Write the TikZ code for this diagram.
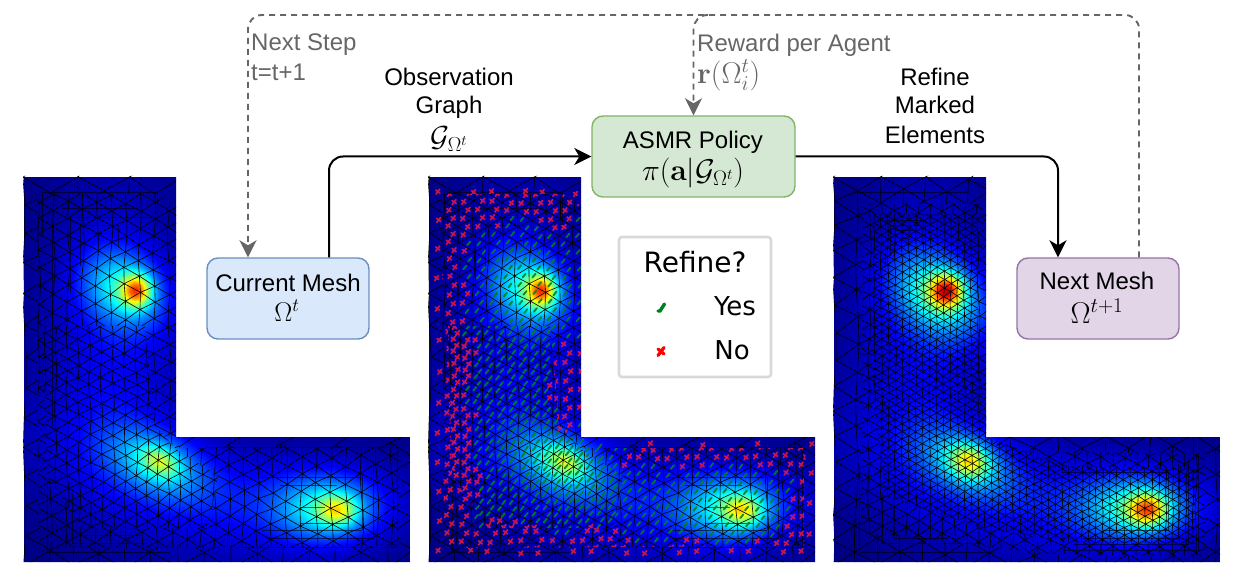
\RequirePackage{fix-cm}
\documentclass[tikz,border=0pt]{standalone}
\usepackage{amsmath}
\usepackage[no-math]{fontspec}
\setmainfont{Liberation Sans}
\newfontfamily\legendfont{DejaVu Sans}
\usetikzlibrary{arrows.meta,calc}
\newcommand\bigmath[2]{{\fontsize{#1bp}{28bp}\selectfont$#2$}}

% ---------- colour field helpers (PostScript calculator code) ----------
\newcommand\gs[7]{ 2 index #1 sub #3 mul 2 index #2 sub #4 mul add #5 div dup mul
 3 index #1 sub #4 neg mul 3 index #2 sub #3 mul add #6 div dup mul
 add 0.5 mul neg 2.71828 exch exp #7 mul add }
\newcommand\clampit{ dup 0 lt {pop 0} if dup 1 gt {pop 1} if }
\newcommand\jet{ 3 1 roll pop pop
 dup 4 mul 3 sub abs 1.5 exch sub \clampit
 exch dup 4 mul 2 sub abs 1.5 exch sub \clampit
 exch dup 4 mul 1 sub abs 1.5 exch sub \clampit
 exch pop }
\newcommand\bgfield{
 \gs{92}{160}{0}{1}{105}{48}{0.12}
 \gs{150}{310}{0.94}{0.34}{105}{42}{0.10}
 \gs{290}{322}{1}{0}{80}{34}{0.09} }
\pgfdeclarefunctionalshading{heatA}{\pgfpointorigin}{\pgfpoint{387bp}{386bp}}{}{
 386 exch sub 0.0 \bgfield
 \gs{113}{114}{1}{0}{10}{11}{0.46}
 \gs{100}{112}{0.8}{0.6}{30}{24}{0.30}
 \gs{137}{285}{0.9}{0.43}{13}{9}{0.22}
 \gs{133}{287}{0.9}{0.43}{34}{20}{0.24}
 \gs{314}{334}{1}{0}{13}{10}{0.28}
 \gs{304}{332}{1}{0}{34}{22}{0.30}
 \jet }
\pgfdeclarefunctionalshading{heatB}{\pgfpointorigin}{\pgfpoint{387bp}{386bp}}{}{
 386 exch sub 0.0 \bgfield
 \gs{113}{114}{1}{0}{11}{11}{0.50}
 \gs{105}{118}{0.8}{0.6}{34}{25}{0.36}
 \gs{136}{284}{0.95}{0.3}{13}{11}{0.28}
 \gs{133}{286}{0.9}{0.43}{32}{19}{0.25}
 \gs{314}{333}{1}{0}{13}{11}{0.40}
 \gs{304}{332}{1}{0}{36}{21}{0.33}
 \jet }

% ---------- mesh helpers ----------
\newcommand\Lpath{(0,0)--(153,0)--(153,261)--(387,261)--(387,386)--(0,386)--cycle}
\newcommand\FullRect{(-20,-20)--(410,-20)--(410,410)--(-20,410)--cycle}
\newcommand\innerA{(14,18)--(135,18)--(156,32)--(156,272)--(376,272)--(376,370)--(16,372)--cycle}
\newcommand\denseA{(20,150)--(122,150)--(132,250)--(152,272)--(195,300)--(185,352)--(60,352)--(24,300)--cycle}
\newcommand\midB{(30,28)--(150,28)--(156,220)--(156,268)--(200,276)--(372,278)--(372,380)--(220,378)--(28,356)--cycle}
\newcommand\fineB{(40,38)--(144,38)--(146,190)--(156,262)--(230,290)--(362,292)--(362,368)--(236,366)--(150,352)--(52,320)--(40,210)--cycle}
% #1 prefix, #2 h, #3 imax, #4 jmax, #5 jitter, #6 marks? (1/0), #7 lowest y of the cells
\newcommand\meshlayer[7]{%
 \pgfmathsetmacro\dxx{0.866*#2}%
 \foreach \i in {0,...,#3}{\foreach \j in {-1,...,#4}{%
   \pgfmathtruncatemacro\keepv{(((\i*\dxx<170+1.2*#2)||(\j*#2>250-2*#2))&&(\j*#2>#7-2*#2))?1:0}%
   \ifnum\keepv=1
   \pgfmathsetmacro\vx{\i*\dxx+#5*sin(37*\i+71*\j)+1.2*#5*sin(23*\i+11*\j)}%
   \pgfmathsetmacro\vy{(\j+0.5*mod(\i,2))*#2+#5*sin(73*\i-47*\j+40)+1.2*#5*sin(13*\i-29*\j)}%
   \coordinate (#1\i/\j) at (\vx,\vy);
   \fi}}%
 \pgfmathtruncatemacro\imaxx{#3-1}\pgfmathtruncatemacro\jmaxx{#4-1}%
 \foreach \i in {0,...,\imaxx}{\foreach \j in {0,...,\jmaxx}{%
   \pgfmathtruncatemacro\keepc{(((\i*\dxx<170)||(\j*#2>250))&&(\j*#2>#7))?1:0}%
   \ifnum\keepc=1
   \pgfmathtruncatemacro\ia{\i+1}%
   \pgfmathtruncatemacro\ja{\j+mod(\i,2)}%
   \pgfmathtruncatemacro\jb{\ja-1}%
   \pgfmathtruncatemacro\jc{\j+1}%
   \draw[meshline] (#1\i/\j)--(#1\i/\jc) (#1\i/\j)--(#1\ia/\ja) (#1\i/\j)--(#1\ia/\jb);
   \ifnum#6=1
     \pgfmathsetmacro\px{(\i+0.33)*\dxx}%
     \pgfmathsetmacro\py{(\j+0.5*mod(\i,2)+0.5)*#2}%
     \markat{\px}{\py}{($0.333*(#1\i/\j)+0.333*(#1\i/\jc)+0.333*(#1\ia/\ja)$)}%
     \pgfmathsetmacro\px{(\i+0.67)*\dxx}%
     \pgfmathsetmacro\py{(\j+0.5*mod(\i,2))*#2}%
     \markat{\px}{\py}{($0.333*(#1\i/\j)+0.333*(#1\ia/\jb)+0.333*(#1\ia/\ja)$)}%
   \fi
   \fi
 }}%
}
\newcommand\markat[3]{%
 \pgfmathtruncatemacro\inL{((#1>1)&&(#1<386)&&(#2>1)&&(#2<385)&&((#1<153)||(#2>261)))?1:0}%
 \ifnum\inL=1
  \pgfmathsetmacro\xn{#1+7*sin(9.1*#1+5.3*#2)}%
  \pgfmathsetmacro\yn{#2+7*sin(4.7*#1-7.1*#2)}%
  \pgfmathtruncatemacro\isg{(((\yn>47)&&(\yn<160)&&(\xn>35))||((\yn>=160)&&(\yn<250)&&(\xn>45)&&(\xn<124))||((\yn>=250)&&(\xn>48)&&(\xn<200)&&(\yn<345+0.1*(\xn-50)))||((\xn>=200)&&(\xn<359)&&(\yn>288)&&(\yn<367)))?1:0}%
  \ifnum\isg=1
    \draw[markyes] #3 ++(-1.5,1.8) -- ++(3,-3.6);
  \else
    \draw[markno] #3 ++(-1.9,2.5) -- ++(3.8,-5) #3 ++(-2,-1.5) -- ++(4,3);
  \fi
 \fi}
\newcommand\outlinesA{%
 \draw[outline] (19,60)--(19,16)--(134,16)--(134,50)
  (39,32)--(115,32) (47,117)--(47,41)--(134,41) (57,90)--(57,49)--(95,49)--(95,70)
  (65,57)--(85,57) (29,250)--(29,47)
  (24,304)--(24,376)--(147,376) (49,317)--(49,367)--(124,367) (60,359)--(120,359)
  (72,337)--(72,359)
  (217,371)--(374,371)--(374,271)--(184,271) (244,362)--(350,362)--(350,284)
  (339,354)--(339,301)--(239,301) (239,354)--(339,354) (257,309)--(314,309)
  (277,331)--(302,331) (277,347)--(325,347);}
\newcommand\outlinesB{%
 \draw[outline] (20,16)--(134,16) (52,90)--(52,44)--(92,44)--(92,100) (57,80)--(57,49)--(86,49)
  (62,70)--(62,54)--(80,54) (68,62)--(75,62)
  (229,296)--(335,296)--(335,354)--(270,354) (345,288)--(345,362)--(250,362)
  (355,284)--(355,368)--(240,368) (365,280)--(365,374)--(230,374)
  (49,317)--(49,367)--(150,367) (60,330)--(60,362)--(115,362) (26,290)--(26,376)--(160,376);}

\tikzset{
 meshline/.style={draw=black,line width=0.6bp,line cap=butt},
 outline/.style={draw=black,line width=0.35bp,draw opacity=0.6},
 markyes/.style={draw=yesgreen,line width=1.9bp,line cap=round,draw opacity=0.9},
 markno/.style={draw=noRed,line width=1.7bp,line cap=round,draw opacity=0.9},
 meshbox/.style={rounded corners=11bp,line width=1.4bp,minimum width=162bp,minimum height=81bp,inner sep=0pt},
 lbl/.style={inner sep=0pt,align=center,text=black,font=\fontsize{24bp}{28bp}\selectfont},
 glbl/.style={inner sep=0pt,anchor=west,text=labelgray,font=\fontsize{24bp}{28bp}\selectfont},
 solidflow/.style={draw=black,line width=2bp,rounded corners=14bp,-{Stealth[length=17bp,width=17bp,inset=5bp]}},
 dashflow/.style={draw=labelgray,line width=1.9bp,dash pattern=on 6bp off 5bp,rounded corners=14bp,-{Stealth[length=17bp,width=17bp,inset=5bp]}},
 legtxt/.style={inner sep=0pt,text=black,font=\legendfont\fontsize{26bp}{30bp}\selectfont},
}
\definecolor{yesgreen}{RGB}{0,128,30}
\definecolor{noRed}{RGB}{222,25,65}
\definecolor{labelgray}{RGB}{102,102,102}
\definecolor{boxblue}{HTML}{DAE8FC}\definecolor{boxblued}{HTML}{6C8EBF}
\definecolor{boxgreen}{HTML}{D5E8D4}\definecolor{boxgreend}{HTML}{82B366}
\definecolor{boxpurple}{HTML}{E1D5E7}\definecolor{boxpurpled}{HTML}{9673A6}

\begin{document}
\begin{tikzpicture}[x=1bp,y=-1bp]
\useasboundingbox (0,0) rectangle (1246,585);

% Panel 1
\begin{scope}[shift={(23,176)}]
 \begin{scope}
  \clip \Lpath;
  \node[inner sep=0pt,anchor=north west] (heatone) at (0,0) {\pgfuseshading{heatA}};
  \outlinesA
  \begin{scope}[even odd rule]\clip \FullRect \innerA; \meshlayer{a}{30}{16}{14}{1.6}{0}{-100}\end{scope}
  \begin{scope}[even odd rule]\clip \innerA \denseA; \meshlayer{b}{17}{27}{24}{1.3}{0}{-100}\end{scope}
  \begin{scope}\clip \denseA; \meshlayer{h}{13}{19}{28}{1}{0}{135}\end{scope}
 \end{scope}
\end{scope}

% Panel 2
\begin{scope}[shift={(428,176)}]
 \begin{scope}
  \clip \Lpath;
  \node[inner sep=0pt,anchor=north west] (heattwo) at (0,0) {\pgfuseshading{heatA}};
  \outlinesA
  \begin{scope}[even odd rule]\clip \FullRect \innerA; \meshlayer{c}{30}{16}{14}{1.6}{1}{-100}\end{scope}
  \begin{scope}[even odd rule]\clip \innerA \denseA; \meshlayer{d}{17}{27}{24}{1.3}{1}{-100}\end{scope}
  \begin{scope}\clip \denseA; \meshlayer{i}{13}{19}{28}{1}{1}{135}\end{scope}
 \end{scope}
\end{scope}

% Panel 3
\begin{scope}[shift={(833,176)}]
 \begin{scope}
  \clip \Lpath;
  \node[inner sep=0pt,anchor=north west] (heatthree) at (0,0) {\pgfuseshading{heatB}};
  \outlinesB
  \begin{scope}[even odd rule]\clip \FullRect \midB; \meshlayer{e}{26}{18}{16}{1.6}{0}{-100}\end{scope}
  \begin{scope}[even odd rule]\clip \midB \fineB; \meshlayer{f}{14}{33}{29}{1}{0}{-100}\end{scope}
  \begin{scope}\clip \fineB; \meshlayer{g}{8}{57}{50}{0.5}{0}{25}\end{scope}
 \end{scope}
\end{scope}

% Boxes
\node[meshbox,draw=boxblued,fill=boxblue] (curmesh) at (288,298.5) {};
\node[meshbox,draw=boxpurpled,fill=boxpurple] (nextmesh) at (1098,298.5) {};
\node[meshbox,minimum width=203bp,draw=boxgreend,fill=boxgreen] (asmr) at (693.5,156.5) {};
\node[lbl] (curtext) at (288,283) {Current Mesh};
\node[lbl] (curmath) at (287,311) {\bigmath{27}{\Omega^{t}}};
\node[lbl] (nexttext) at (1097,281) {Next Mesh};
\node[lbl] (nextmath) at (1097,311) {\bigmath{30}{\Omega^{t+1}}};
\node[lbl] (asmrtext) at (693,142) {ASMR Policy};
\node[lbl] (asmrmath) at (693,173) {\bigmath{30}{\pi(\mathbf{a}|\mathcal{G}_{\Omega^t})}};

% Connectors
\draw[solidflow] ([xshift=41bp]curmesh.north) |- (asmr.west);
\draw[solidflow] (asmr.east) -| ([xshift=-40bp]nextmesh.north);
\coordinate (topright) at (1139,15);
\coordinate (topleft) at (248,15);
\coordinate (branchstart) at (708,15);
\draw[dashflow] ([xshift=41bp]nextmesh.north) -- (topright) -- (topleft) -- ([xshift=-40bp]curmesh.north);
\draw[dashflow] (branchstart) -- (branchstart -| asmr.north) -- (asmr.north);

% Labels
\node[glbl] (nextstep) at (251,45) {Next Step};
\node[glbl] (tstep) at (251,72) {t=t+1};
\node[glbl] (reward) at (697,45) {Reward per Agent};
\node[glbl] (rewardmath) at (697,75) {\bigmath{30}{\mathbf{r}(\Omega_i^t)}};
\node[lbl] (obsa) at (449,77) {Observation};
\node[lbl] (obsb) at (449,107) {Graph};
\node[lbl] (obsc) at (449,139) {\bigmath{29}{\mathcal{G}_{\Omega^t}}};
\node[lbl] (refa) at (935,77) {Refine};
\node[lbl] (refb) at (935,105) {Marked};
\node[lbl] (refc) at (935,135) {Elements};

% Legend
\node[draw=black!15,line width=2.6bp,rounded corners=3bp,fill=white,minimum width=152bp,minimum height=140bp,inner sep=0pt] (legend) at (695,307) {};
\node[legtxt,font=\legendfont\fontsize{28bp}{30bp}\selectfont] (legtitle) at (695,262) {Refine?};
\node[legtxt] (legyes) at (735,306) {Yes};
\node[legtxt] (legno) at (732,350) {No};
\coordinate (cyes) at (661,307.5);
\coordinate (cno) at (661,351.5);
\draw[draw=yesgreen,line width=3.4bp,line cap=round] (cyes) ++(-3,3.5) -- ++(2,0) -- ++(4.5,-7);
\draw[draw=red,line width=3.2bp,line cap=round] (cno) ++(-3,4) -- ++(6,-8) (cno) ++(-3,-2.5) -- ++(6,5);
\end{tikzpicture}
\end{document}
